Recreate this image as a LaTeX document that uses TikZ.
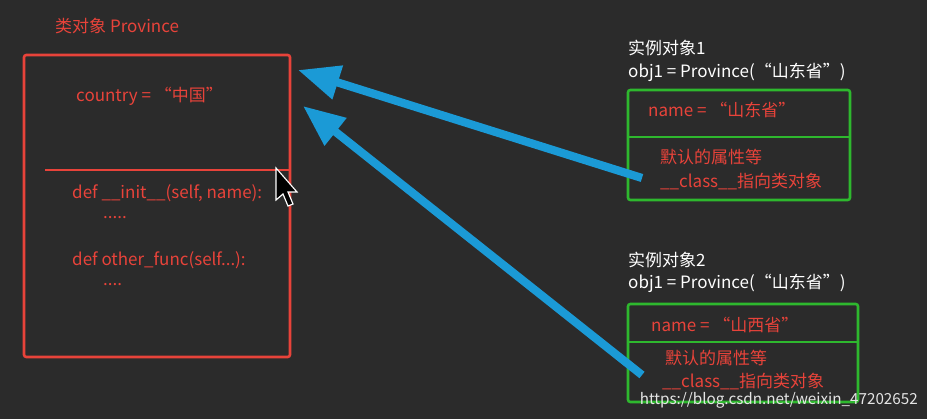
\documentclass[tikz,border=0pt]{standalone}
\usepackage{fontspec}
\setmainfont{Noto Sans CJK SC}
\usetikzlibrary{arrows.meta}
\definecolor{bg}{HTML}{2B2B2B}
\definecolor{rd}{HTML}{E8433A}
\definecolor{gn}{HTML}{2EB82E}
\definecolor{bl}{HTML}{1B9AD6}
\tikzset{
 txt/.style={anchor=west,inner sep=0pt,font=\fontsize{14.5}{16}\selectfont},
 rtxt/.style={txt,text=rd},
 wtxt/.style={txt,text=white},
 rbox/.style={draw=rd,line width=2.2pt,rounded corners=2pt},
 gbox/.style={draw=gn,line width=2.2pt,rounded corners=2pt},
 barrow/.style={draw=bl,line width=7pt,-{Triangle[length=1.25cm,width=1.0cm]}}
}
\begin{document}
\begin{tikzpicture}[x=0.03cm,y=-0.03cm]
\fill[bg] (0,0) rectangle (927,419);
\useasboundingbox (0,0) rectangle (927,419);
\node[rtxt] (t0) at (55,26) {类对象 Province};
\draw[rbox] (24,55) rectangle (290,357);
\draw[draw=rd,line width=2.2pt] (45,170) -- (290,170);
\node[rtxt] (c1) at (76,96) {country = “中国”};
\node[rtxt] (d1) at (72,193) {def \_\_init\_\_(self, name):};
\node[rtxt] (d2) at (103,218) {.....};
\node[rtxt] (d3) at (72,260) {def other\_func(self...):};
\node[rtxt] (d4) at (103,285) {....};
% instance 1
\node[wtxt] (i1) at (628,48) {实例对象1};
\node[wtxt] (o1) at (628,72) {obj1 = Province(“山东省”)};
\draw[gbox] (628,90) rectangle (850,200);
\draw[draw=gn,line width=2.2pt] (628,137) -- (850,137);
\node[rtxt] (n1) at (648,110) {name = “山东省”};
\node[rtxt] (m1) at (660,157) {默认的属性等};
\node[rtxt] (k1) at (660,182) {\_\_class\_\_指向类对象};
% instance 2
\node[wtxt] (i2) at (628,260) {实例对象2};
\node[wtxt] (o2) at (628,283) {obj1 = Province(“山东省”)};
\draw[gbox] (628,304) rectangle (858,402);
\draw[draw=gn,line width=2.2pt] (628,342) -- (858,342);
\node[rtxt] (n2) at (651,325) {name = “山西省”};
\node[rtxt] (m2) at (665,358) {默认的属性等};
\node[rtxt] (k2) at (662,382) {\_\_class\_\_指向类对象};
% arrows
\coordinate (s1) at (642,178);
\coordinate (e1) at (298,70);
\coordinate (s2) at (642,375);
\coordinate (e2) at (303,106);
\draw[barrow] (s1) -- (e1);
\draw[barrow] (s2) -- (e2);
% cursor
\draw[fill=black,draw=white,line width=1pt] (276,168) -- (276,200) -- (283,194) -- (288,206) -- (293,204) -- (288,192) -- (297,192) -- cycle;
\node[anchor=east,inner sep=0pt,text=white!80!gray,font=\fontsize{13}{15}\selectfont] (wm) at (918,400) {https://blog.csdn.net/weixin\_47202652};
\end{tikzpicture}
\end{document}
